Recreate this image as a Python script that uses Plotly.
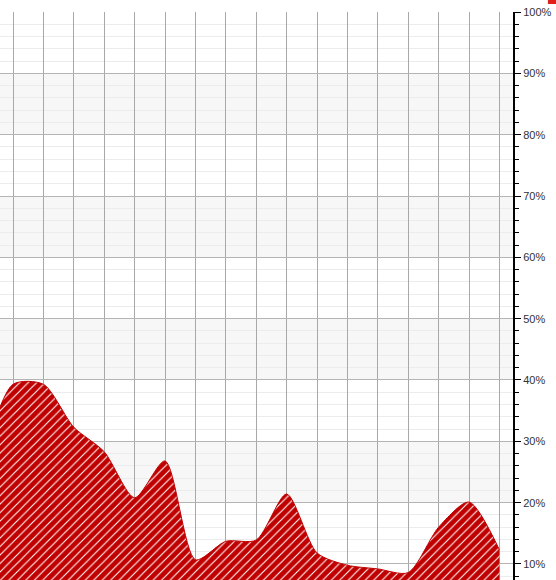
import plotly.graph_objects as go

# Data (category positions; position -1 lies just off the left edge)
positions = list(range(-1, 17))
values = [27.0, 39.3, 39.3, 32.3, 28.3, 20.8, 26.8, 10.7, 13.7, 13.9,
          21.4, 11.8, 9.8, 9.2, 8.6, 16.0, 20.1, 12.3]
tick_vals = [10, 20, 30, 40, 50, 60, 70, 80, 90, 100]
tick_text = [f"{v}%" for v in tick_vals]
band_ranges = [(20, 30), (40, 50), (60, 70), (80, 90)]

RED = "#C00000"

fig = go.Figure()
fig.add_trace(go.Scatter(
    x=positions, y=values,
    mode="lines",
    line=dict(color=RED, width=1, shape="spline", smoothing=0.75),
    fill="tozeroy",
    fillcolor=RED,
    fillpattern=dict(shape="/", fgcolor="#ffffff", bgcolor=RED,
                     size=6, solidity=0.18, fillmode="replace"),
    hoverinfo="skip",
    showlegend=False,
))

shapes = []
for lo, hi in band_ranges:
    shapes.append(dict(type="rect", xref="paper", yref="y", x0=0, x1=1,
                       y0=lo, y1=hi, fillcolor="#f7f7f7",
                       line=dict(width=0), layer="below"))
# cut-off legend marker at the top right
shapes.append(dict(type="rect", xref="paper", yref="paper",
                   x0=1.068, x1=1.09, y0=1.0141, y1=1.03,
                   fillcolor="#e0201b", line=dict(width=0)))

fig.update_layout(
    width=556, height=580,
    margin=dict(l=0, r=43, t=12, b=0, autoexpand=False),
    paper_bgcolor="white", plot_bgcolor="white",
    shapes=shapes,
    xaxis=dict(range=[-0.428, 16.447], tick0=0, dtick=1,
               showgrid=True, gridcolor="#a8a8a8", gridwidth=1,
               showticklabels=False, zeroline=False, ticks="",
               showline=False, layer="below traces"),
    yaxis=dict(range=[7.39, 100], side="right",
               tickmode="array", tickvals=tick_vals, ticktext=tick_text,
               showgrid=True, gridcolor="#b4b4b4", gridwidth=1,
               minor=dict(dtick=2, tick0=0, showgrid=True, gridcolor="#ececec",
                          ticks="outside", ticklen=4, tickcolor="black"),
               ticks="outside", ticklen=6, tickcolor="black", tickwidth=1,
               showline=True, linecolor="black", linewidth=2,
               zeroline=False, automargin=False,
               tickfont=dict(family="Liberation Sans", size=11, color="#333333"),
               layer="below traces"),
)

fig.write_html(
    "out.html",
    config={"displayModeBar": False},
    post_script="document.body.style.margin='0';document.body.style.overflow='hidden';",
)
